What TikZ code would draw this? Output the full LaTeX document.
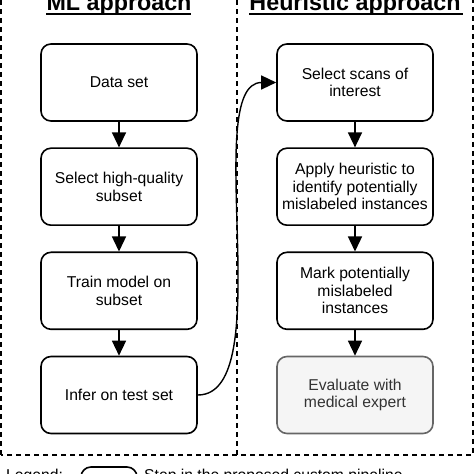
\documentclass[tikz,border=0pt]{standalone}
\usepackage{xcolor}
\usepackage{fontspec}
\setmainfont{Liberation Sans}
\usepackage{tikz}
\usetikzlibrary{arrows.meta}

\definecolor{evalfill}{HTML}{F5F5F5}
\definecolor{evaldraw}{HTML}{666666}
\definecolor{evaltext}{HTML}{333333}

\begin{document}
\begin{tikzpicture}[x=1pt,y=1pt,
  box/.style={draw,line width=1.6pt,rounded corners=10pt,minimum width=156pt,
    minimum height=77pt,align=center,inner sep=2pt,
    font=\fontsize{15.7}{17.5}\selectfont},
  evalbox/.style={box,draw=evaldraw,fill=evalfill,text=evaltext},
  flow/.style={line width=1.4pt,-{Triangle[length=15pt,width=14pt]}},
  frame/.style={line width=1.8pt,dash pattern=on 5pt off 4pt},
  title/.style={font=\fontsize{23.3}{26}\selectfont\bfseries,anchor=base,inner sep=0pt}]
\useasboundingbox (0,0) rectangle (474,474);
\clip (0,0) rectangle (474,474);
% frame of the two columns
\draw[frame] (1,19) rectangle (473,520);
\draw[frame] (237,19) -- (237,520);
% titles
\node[title] (tml) at (119,463) {ML approach};
\node[title] (thr) at (355,463) {Heuristic approach};
\draw[line width=1.8pt] (tml.base west) ++(0,-3) -- ++(145,0);
\draw[line width=1.8pt] (thr.base west) ++(0,-3) -- ++(214,0);
% ML column
\node[box] (data) at (119,391.5) {Data set};
\node[box] (hq) at (119,287.3) {Select high-quality\\subset};
\node[box] (train) at (119,183.2) {Train model on\\subset};
\node[box] (infer) at (119,79) {Infer on test set};
\draw[flow] (data) -- (hq);
\draw[flow] (hq) -- (train);
\draw[flow] (train) -- (infer);
% heuristic column
\node[box] (scans) at (355,391.5) {Select scans of\\interest};
\node[box] (heur) at (355,287.3) {Apply heuristic to\\identify potentially\\mislabeled instances};
\node[box] (mark) at (355,183.2) {Mark potentially\\mislabeled\\instances};
\node[evalbox] (eval) at (355,79) {Evaluate with\\medical expert};
\draw[flow] (scans) -- (heur);
\draw[flow] (heur) -- (mark);
\draw[flow] (mark) -- (eval);
% link between the columns
\draw[flow] (infer.east) .. controls (280,79) and (200,391.5) .. (scans.west);
% legend
\node[font=\fontsize{15.7}{17.5}\selectfont,anchor=base west,inner sep=0pt] (leg) at (6,-6.5) {Legend:};
\node[box,minimum width=56pt,minimum height=28pt] (legbox) at (109,-7) {};
\node[font=\fontsize{15.7}{17.5}\selectfont,anchor=base west,inner sep=0pt] (legtxt) at (144,-6.5) {Step in the proposed custom pipeline};
\end{tikzpicture}
\end{document}
